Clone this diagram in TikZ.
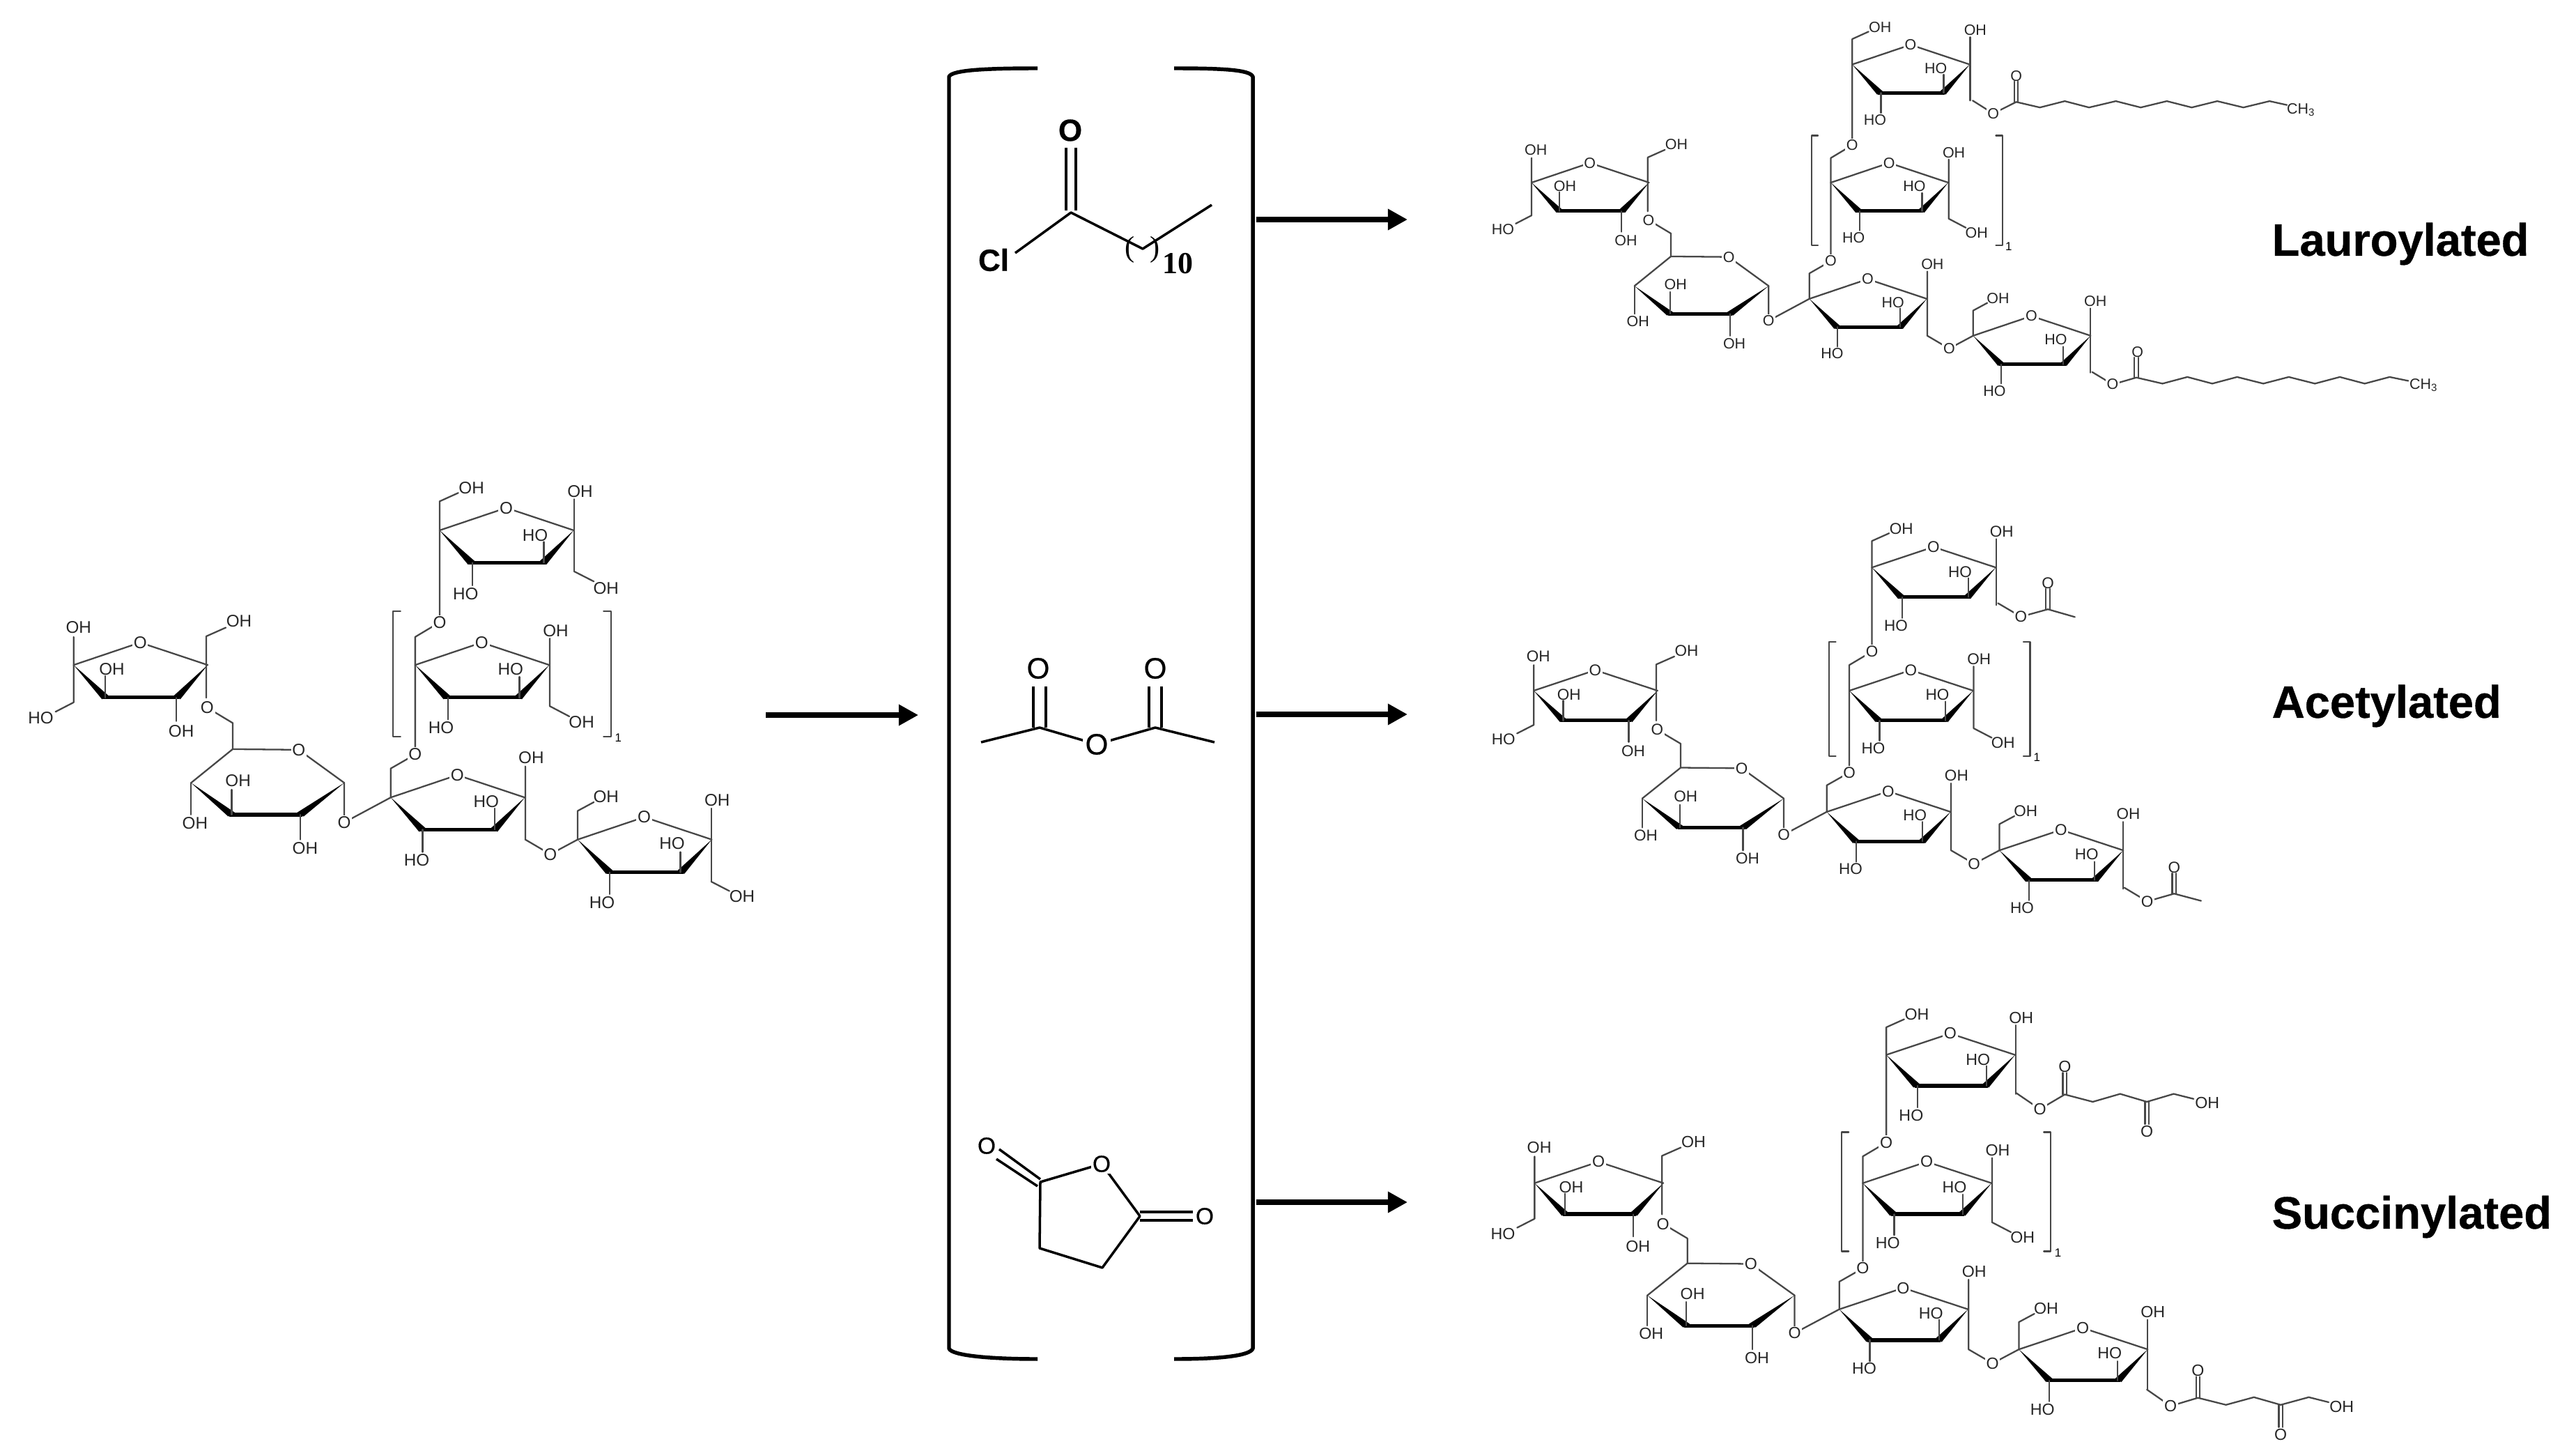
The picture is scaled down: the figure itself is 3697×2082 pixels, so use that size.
\documentclass[tikz,border=0pt]{standalone}
\usepackage{fontspec}
\setmainfont{Liberation Sans}
\newfontfamily\timesb{Liberation Serif}
\newfontfamily\heavy{Liberation Sans}[BoldFeatures={FakeBold=0.6}]
\newfontfamily\semi{Liberation Sans}[FakeBold=0.5]
\usetikzlibrary{arrows.meta}
\newcounter{nc}
\def\afs{6.9}
\tikzset{
  bond/.style={line width=0.65pt,line cap=round,line join=round,black!72},
  wedge/.style={fill=black,draw=none},
  atom/.style={inner sep=0pt,font=\fontsize{\afs}{\afs}\selectfont,text=black!85},
  atomO/.style={atom,fill=white,inner sep=0.5pt},
  rbond/.style={line width=1pt,line cap=butt,line join=round,black},
  ratom/.style={inner sep=0pt,font=\semi\fontsize{12}{12}\selectfont,text=black},
  ratomw/.style={ratom,fill=white,inner sep=1pt},
  ratoms/.style={inner sep=0.6pt,fill=white,font=\semi\fontsize{9.5}{9.5}\selectfont,text=black},
  brk/.style={line width=1.55pt,line cap=butt,line join=round,black},
  rxn/.style={line width=2.3pt,-{Triangle[length=8pt,width=8.2pt]},black},
  prod/.style={inner sep=0pt,anchor=west,font=\heavy\bfseries\fontsize{18.5}{18.5}\selectfont,text=black}
}
\newcommand\lbl[3][atom]{\stepcounter{nc}\node[#1] (a\arabic{nc}) at (#2) {#3};}
% five-membered ring: left carbon at (#1,#2)
\newcommand\furan[2]{%
  \draw[bond] (#1,#2) -- ({#1+136},{#2-72}) -- ({#1+274},#2);
  \fill[wedge] (#1,#2) -- ({#1+58},{#2+110}) -- ({#1+71},{#2+98}) -- cycle;
  \fill[wedge] ({#1+274},#2) -- ({#1+218},{#2+110}) -- ({#1+205},{#2+98}) -- cycle;
  \fill[wedge] ({#1+60},{#2+98}) rectangle ({#1+216},{#2+110});
  \lbl[atomO]{{#1+136},{#2-72}}{O}}
\newcommand\sugar[4]{%
  \pgfmathsetmacro\sgx{0.007015*#3}\pgfmathsetmacro\sgy{-0.004464*#4}%
  \begin{scope}[shift={(#1,#2)},x=\sgx cm,y=\sgy cm]
  \furan{122}{680}\furan{770}{1105}\furan{1152}{1240}\furan{820}{680}\furan{870}{248}
  % ring A substituents
  \draw[bond] (122,590)--(122,800)--(85,830);
  \draw[bond] (187,785)--(187,715);
  \draw[bond] (332,785)--(332,860);
  \draw[bond] (433,560)--(393,588)--(393,785);
  \draw[bond] (395,817)--(447,866)--(447,950);
  \lbl{132,560}{OH}\lbl{55,850}{HO}\lbl{200,693}{OH}\lbl{342,893}{OH}\lbl{460,540}{OH}
  \lbl[atomO]{395,817}{O}
  % pyranose
  \draw[bond] (362,1058)--(447,950)--(582,952)--(675,1058);
  \fill[wedge] (362,1058)--(438,1166)--(452,1154)--cycle;
  \fill[wedge] (675,1058)--(592,1166)--(578,1154)--cycle;
  \fill[wedge] (440,1154) rectangle (590,1166);
  \draw[bond] (362,1058)--(362,1160);
  \draw[bond] (445,1160)--(445,1080);
  \draw[bond] (585,1160)--(585,1240);
  \draw[bond] (675,1058)--(675,1185)--(770,1105);
  \lbl[atomO]{582,952}{O}\lbl{370,1187}{OH}\lbl{458,1052}{OH}\lbl{595,1268}{OH}\lbl[atomO]{675,1185}{O}
  % ring B
  \draw[bond] (770,1105)--(770,1012)--(820,967)--(820,680);
  \draw[bond] (835,1208)--(835,1280);
  \draw[bond] (982,1208)--(982,1140);
  \draw[bond] (1045,1005)--(1045,1240)--(1096,1287)--(1152,1240);
  \lbl[atomO]{820,967}{O}\lbl{823,1305}{HO}\lbl{965,1118}{HO}\lbl{1057,978}{OH}\lbl[atomO]{1096,1287}{O}
  % ring C
  \draw[bond] (1152,1240)--(1152,1148)--(1185,1120);
  \draw[bond] (1217,1345)--(1217,1415);
  \draw[bond] (1362,1345)--(1362,1280);
  \draw[bond] (1425,1140)--(1425,1375);
  \lbl{1210,1103}{OH}\lbl{1202,1442}{HO}\lbl{1345,1253}{HO}\lbl{1437,1113}{OH}
  % ring D
  \draw[bond] (820,680)--(820,590)--(870,543)--(870,248);
  \draw[bond] (887,785)--(887,855);
  \draw[bond] (1033,785)--(1033,718);
  \draw[bond] (1095,595)--(1095,812)--(1135,845);
  \lbl[atomO]{870,543}{O}\lbl{873,882}{HO}\lbl{1015,693}{HO}\lbl{1107,570}{OH}\lbl{1160,863}{OH}
  % ring E
  \draw[bond] (908,128)--(870,155)--(870,248);
  \draw[bond] (937,352)--(937,425);
  \draw[bond] (1083,352)--(1083,285);
  \draw[bond] (1145,148)--(1145,380);
  \lbl{935,112}{OH}\lbl{923,452}{HO}\lbl{1065,263}{HO}\lbl{1157,123}{OH}
  % repeat-unit bracket
  \draw[bond] (790,508)--(775,508)--(775,910)--(790,910);
  \draw[bond] (1205,508)--(1220,508)--(1220,910)--(1205,910);
  \lbl[inner sep=0pt,font=\fontsize{4.8}{4.8}\selectfont]{1235,914}{1}
  \end{scope}}
\begin{document}
\begin{tikzpicture}[x=0.01cm,y=-0.01cm]
\useasboundingbox (0,0) rectangle (3697,2082);
% starting material
\def\afs{6.9}
\sugar{20}{650}{1}{1}
\begin{scope}[shift={(20,650)},x=0.007015cm,y=-0.004464cm]
  \draw[bond] (1145,380)--(1185,412);
  \lbl{1210,433}{OH}
  \draw[bond] (1425,1375)--(1462,1405);
  \lbl{1488,1423}{OH}
\end{scope}
% lauroylated
\def\afs{6.1}
\sugar{2123}{-4.8}{0.878}{0.878}
\begin{scope}[shift={(2130,0)},x=0.0089286cm,y=-0.003954cm]
  \draw[bond] (785,365)--(818,412)--(855,370)--(893,390)--(933,367)--(972,390)--(1015,367)--(1055,390)--(1097,367)--(1137,390)--(1178,367)--(1220,390)--(1262,367)--(1290,381);
  \draw[bond] (852,370)--(852,295) (858,370)--(858,295);
  \lbl[atomO]{818,412}{O}\lbl{855,275}{O}\lbl{1313,398}{CH\textsubscript{3}}
  \draw[bond] (977,1350)--(1010,1395)--(1048,1370)--(1090,1392)--(1130,1368)--(1170,1392)--(1210,1368)--(1252,1392)--(1293,1368)--(1335,1392)--(1375,1368)--(1415,1392)--(1455,1368)--(1485,1382);
  \draw[bond] (1045,1370)--(1045,1297) (1051,1370)--(1051,1297);
  \lbl[atomO]{1010,1395}{O}\lbl{1050,1278}{O}\lbl{1510,1398}{CH\textsubscript{3}}
\end{scope}
% acetylated
\def\afs{6.4}
\sugar{2122}{712.8}{0.926}{0.916}
\begin{scope}[shift={(2130,720)},x=0.007015cm,y=-0.003954cm]
  \draw[bond] (1050,368)--(1097,417)--(1152,390)--(1207,418);
  \draw[bond] (1148,390)--(1148,315) (1156,390)--(1156,315);
  \lbl[atomO]{1097,417}{O}\lbl{1152,295}{O}
  \draw[bond] (1308,1400)--(1355,1450)--(1410,1422)--(1465,1448);
  \draw[bond] (1406,1422)--(1406,1348) (1414,1422)--(1414,1348);
  \lbl[atomO]{1355,1450}{O}\lbl{1410,1328}{O}
\end{scope}
% succinylated
\def\afs{6.6}
\sugar{2120}{1408}{0.961}{0.953}
\begin{scope}[shift={(2130,1420)},x=0.0089286cm,y=-0.004209cm]
  \draw[bond] (855,352)--(893,407)--(933,357)--(978,382)--(1022,355)--(1065,382)--(1108,355)--(1140,372);
  \draw[bond] (930,357)--(930,283) (936,357)--(936,283);
  \draw[bond] (1062,382)--(1062,458) (1068,382)--(1068,458);
  \lbl[atomO]{893,407}{O}\lbl{933,263}{O}\lbl{1065,482}{O}\lbl{1162,385}{OH}
  \draw[bond] (1065,1362)--(1103,1418)--(1147,1390)--(1192,1414)--(1237,1388)--(1280,1414)--(1325,1388)--(1357,1405);
  \draw[bond] (1144,1390)--(1144,1318) (1150,1390)--(1150,1318);
  \draw[bond] (1277,1414)--(1277,1490) (1283,1414)--(1283,1490);
  \lbl[atomO]{1103,1418}{O}\lbl{1147,1297}{O}\lbl{1280,1515}{O}\lbl{1378,1420}{OH}
\end{scope}
% big bracket
\draw[brk] (1489,98) .. controls (1420,98) and (1366,100) .. (1362,110) -- (1362,1935) .. controls (1366,1945) and (1420,1950) .. (1489,1950);
\draw[brk] (1685,98) .. controls (1754,98) and (1794,100) .. (1798,110) -- (1798,1935) .. controls (1794,1945) and (1754,1950) .. (1685,1950);
% lauroyl chloride
\draw[rbond] (1457,363)--(1537,305)--(1640,357)--(1739,294);
\draw[rbond] (1530,212)--(1530,302) (1544,212)--(1544,302);
\node[ratom,font=\heavy\bfseries\fontsize{12.5}{12.5}\selectfont] (lcO) at (1536,187) {O};
\node[ratom,font=\heavy\bfseries\fontsize{12.5}{12.5}\selectfont] (lcCl) at (1426,373) {Cl};
\node[ratom,font=\timesb\fontsize{12}{12}\selectfont] (lcL) at (1622,358) {(};
\node[ratom,font=\timesb\fontsize{12}{12}\selectfont] (lcR) at (1658,358) {)};
\node[ratom,font=\timesb\fontsize{12.5}{12.5}\selectfont\bfseries] (lcN) at (1690,378) {10};
% acetic anhydride
\draw[rbond] (1408,1065)--(1492,1044)--(1574,1068)--(1658,1044)--(1743,1065);
\draw[rbond] (1483,985)--(1483,1044) (1501,985)--(1501,1044);
\draw[rbond] (1649,985)--(1649,1044) (1667,985)--(1667,1044);
\node[ratom] (aaO1) at (1490,959) {O};
\node[ratom] (aaO2) at (1658,959) {O};
\node[ratomw] (aaO3) at (1574,1068) {O};
% succinic anhydride
\draw[rbond] (1493,1696)--(1581,1670)--(1636,1745)--(1582,1819)--(1492,1791)--cycle;
\draw[rbond] (1434,1649)--(1493,1692) (1430,1663)--(1489,1702);
\draw[rbond] (1636,1739)--(1712,1739) (1636,1751)--(1712,1751);
\node[ratoms] (saO1) at (1416,1644) {O};
\node[ratoms] (saO2) at (1581,1670) {O};
\node[ratoms] (saO3) at (1729,1745) {O};
% reaction arrows
\coordinate (a0s) at (1099,1026);\coordinate (a0e) at (1318,1026);
\coordinate (a1s) at (1803,315);\coordinate (a1e) at (2020,315);
\coordinate (a2s) at (1803,1025);\coordinate (a2e) at (2020,1025);
\coordinate (a3s) at (1803,1725);\coordinate (a3e) at (2020,1725);
\draw[rxn] (a0s)--(a0e);
\draw[rxn] (a1s)--(a1e);
\draw[rxn] (a2s)--(a2e);
\draw[rxn] (a3s)--(a3e);
% product labels
\node[prod] (pL) at (3260,350) {Lauroylated};
\node[prod] (pA) at (3260,1013) {Acetylated};
\node[prod] (pS) at (3260,1746) {Succinylated};
\end{tikzpicture}
\end{document}
